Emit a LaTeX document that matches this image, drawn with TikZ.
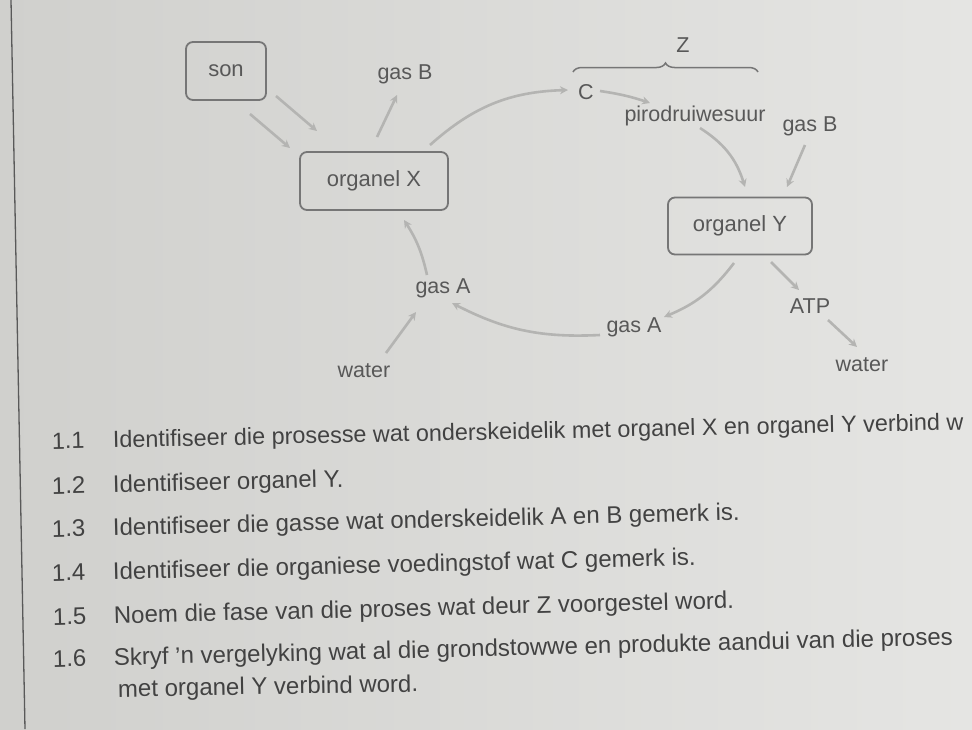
\documentclass[tikz,border=0pt]{standalone}
\usepackage{fontspec}
\setmainfont{Liberation Sans}
\usepackage{xcolor}
\definecolor{paperdark}{RGB}{208,208,205}
\definecolor{paperlight}{RGB}{229,229,227}
\definecolor{ink}{RGB}{66,66,66}
\definecolor{labelink}{RGB}{88,88,88}
\definecolor{boxline}{RGB}{118,118,118}
\definecolor{flowgray}{RGB}{180,180,178}
\usetikzlibrary{arrows.meta}
\usetikzlibrary{decorations.pathreplacing}

\begin{document}
\begin{tikzpicture}[x=1pt, y=-1pt,
    box/.style={draw=boxline, line width=1.8pt, rounded corners=7pt, text=labelink, font=\fontsize{22}{25}\selectfont},
    lbl/.style={text=labelink, font=\fontsize{21.5}{25}\selectfont, inner sep=1pt},
    flow/.style={draw=flowgray, line width=2.6pt, -{Stealth[length=8pt,width=8pt]}},
    qline/.style={anchor=base west, text=ink, font=\fontsize{24}{28}\selectfont, inner sep=0pt}]

    % paper
    \useasboundingbox (0,0) rectangle (972,729);
    \shade[left color=paperdark, right color=paperlight] (0,0) rectangle (972,729);
    \draw[line width=1.3pt, color=black!65] (11,0) -- (25,729);

    % boxes
    \node[box, minimum width=80pt, minimum height=58pt] (son) at (226,71) {son};
    \node[box, minimum width=148pt, minimum height=58pt] (orgX) at (374,181) {organel X};
    \node[box, minimum width=144pt, minimum height=57pt] (orgY) at (740,226) {organel Y};

    % labels
    \node[lbl] (gasBX) at (405,74) {gas B};
    \node[lbl] (Z) at (683,45) {Z};
    \node[lbl] (C) at (586,92) {C};
    \node[lbl] (piro) at (695,116) {pirodruiwesuur};
    \node[lbl] (gasBY) at (810,126) {gas B};
    \node[lbl] (gasAX) at (443,288) {gas A};
    \node[lbl] (gasAY) at (634,327) {gas A};
    \node[lbl] (ATP) at (810,306) {ATP};
    \node[lbl] (waterX) at (364,371) {water};
    \node[lbl] (waterY) at (862,365) {water};

    \draw[boxline, line width=1.5pt, decorate, decoration={brace, amplitude=9pt}]
        ([shift={(-110,27)}]Z.center) -- ([shift={(75,27)}]Z.center);

    % arrows
    \draw[flow] ([shift={(24,43)}]son.center) -- ([shift={(-84,-33)}]orgX.center);
    \draw[flow] ([shift={(50,25)}]son.center) -- ([shift={(-57,-50)}]orgX.center);
    \draw[flow] ([shift={(3,-44)}]orgX.center) -- ([shift={(-8,21)}]gasBX.center);
    \draw[flow] ([shift={(56,-36)}]orgX.center) to[bend left=20] ([shift={(-18,-2)}]C.center);
    \draw[flow] ([shift={(14,-1)}]C.center) to[bend left=5] ([shift={(-45,-13)}]piro.center);
    \draw[flow] ([shift={(5,12)}]piro.center) to[bend left=20] ([shift={(5,-39)}]orgY.center);
    \draw[flow] ([shift={(-5,19)}]gasBY.center) -- ([shift={(47,-39)}]orgY.center);
    \draw[flow] ([shift={(-6,37)}]orgY.center) to[bend left=15] ([shift={(30,-10)}]gasAY.center);
    \draw[flow] ([shift={(-34,8)}]gasAY.center) to[bend left=15] ([shift={(9,15)}]gasAX.center);
    \draw[flow] ([shift={(-16,-13)}]gasAX.center) to[bend right=10] ([shift={(30,39)}]orgX.center);
    \draw[flow] ([shift={(22,-18)}]waterX.center) -- ([shift={(-27,24)}]gasAX.center);
    \draw[flow] ([shift={(31,36)}]orgY.center) -- ([shift={(-11,-16)}]ATP.center);
    \draw[flow] ([shift={(18,14)}]ATP.center) -- ([shift={(-5,-18)}]waterY.center);

    % questions
    \node[qline, rotate=1.2, font=\fontsize{23.4}{28}\selectfont] (q1) at (52,449) {\makebox[61pt][l]{1.1}Identifiseer die prosesse wat onderskeidelik met organel X en organel Y verbind w};
    \node[qline, rotate=1.4] (q2) at (52,494) {\makebox[61pt][l]{1.2}Identifiseer organel Y.};
    \node[qline, rotate=1.4] (q3) at (52,537) {\makebox[61pt][l]{1.3}Identifiseer die gasse wat onderskeidelik A en B gemerk is.};
    \node[qline, rotate=1.4] (q4) at (52,581) {\makebox[61pt][l]{1.4}Identifiseer die organiese voedingstof wat C gemerk is.};
    \node[qline, rotate=1.4] (q5) at (53,625) {\makebox[61pt][l]{1.5}Noem die fase van die proses wat deur Z voorgestel word.};
    \node[qline, rotate=1.4] (q6) at (53,667) {\makebox[61pt][l]{1.6}Skryf 'n vergelyking wat al die grondstowwe en produkte aandui van die proses};
    \node[qline, rotate=1.0] (q6b) at (118,697) {met organel Y verbind word.};

\end{tikzpicture}
\end{document}
